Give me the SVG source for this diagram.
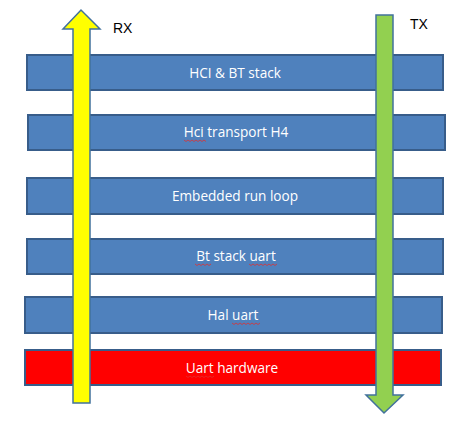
<svg xmlns="http://www.w3.org/2000/svg" width="470" height="422" viewBox="0 0 470 422">
<style>
.bar{fill:#4F81BD;stroke:#385D8A;stroke-width:2}
.red{fill:#FF0000;stroke:#385D8A;stroke-width:2}
.lbl{font-family:"Open Sans","Liberation Sans",sans-serif;font-size:13.6px;fill:#FFFFFF;text-anchor:middle}
.side{font-family:"Liberation Sans",sans-serif;font-size:14px;fill:#000000}
.sq{fill:none;stroke:#E03030;stroke-width:0.8}
.arr{stroke:#41719C;stroke-width:1.5}
</style>
<rect width="470" height="422" fill="#FFFFFF"/>
<g id="hci-bt-stack"><rect class="bar" x="27" y="55" width="416" height="35"/><text class="lbl" x="235" y="78">HCI &amp; BT stack</text></g>
<g id="hci-transport"><rect class="bar" x="28" y="115" width="417" height="35"/><text class="lbl" x="236" y="137">Hci transport H4</text><path class="sq" d="M184,140 l2,1.5 l2,-1.5 l2,1.5 l2,-1.5 l2,1.5 l2,-1.5 l2,1.5 l2,-1.5 l2,1.5 l2,-1.5 l2,1.5"/></g>
<g id="embedded-run-loop"><rect class="bar" x="27" y="178" width="416" height="36"/><text class="lbl" x="235" y="201">Embedded run loop</text></g>
<g id="bt-stack-uart"><rect class="bar" x="27" y="239" width="416" height="35"/><text class="lbl" x="236" y="261">Bt stack uart</text><path class="sq" d="M195,264 l2,1.5 l2,-1.5 l2,1.5 l2,-1.5 l2,1.5 l2,-1.5 l2,1.5 l2,-1.5"/><path class="sq" d="M249,264 l2,1.5 l2,-1.5 l2,1.5 l2,-1.5 l2,1.5 l2,-1.5 l2,1.5 l2,-1.5 l2,1.5 l2,-1.5 l2,1.5 l2,-1.5 l2,1.5 l2,-1.5"/></g>
<g id="hal-uart"><rect class="bar" x="25" y="297" width="417" height="36"/><text class="lbl" x="233" y="320">Hal uart</text><path class="sq" d="M232,323 l2,1.5 l2,-1.5 l2,1.5 l2,-1.5 l2,1.5 l2,-1.5 l2,1.5 l2,-1.5 l2,1.5 l2,-1.5 l2,1.5 l2,-1.5 l2,1.5 l2,-1.5"/></g>
<g id="uart-hardware"><rect class="red" x="25" y="350" width="416" height="35"/><text class="lbl" x="232" y="373">Uart hardware</text><path class="sq" d="M186,376 l2,1.5 l2,-1.5 l2,1.5 l2,-1.5 l2,1.5 l2,-1.5 l2,1.5 l2,-1.5 l2,1.5 l2,-1.5 l2,1.5 l2,-1.5 l2,1.5 l2,-1.5"/></g>
<g id="connectors">
<polygon class="arr" fill="#FFFF00" points="63,29 81,10 100,29 90,29 90,403 73,403 73,29"/>
<polygon class="arr" fill="#92D050" points="376,15 393,15 393,395 403,395 384,413 366,395 376,395"/>
</g>
<g id="rx-label"><text class="side" x="113" y="33">RX</text></g>
<g id="tx-label"><text class="side" x="410" y="29">TX</text></g>
</svg>
